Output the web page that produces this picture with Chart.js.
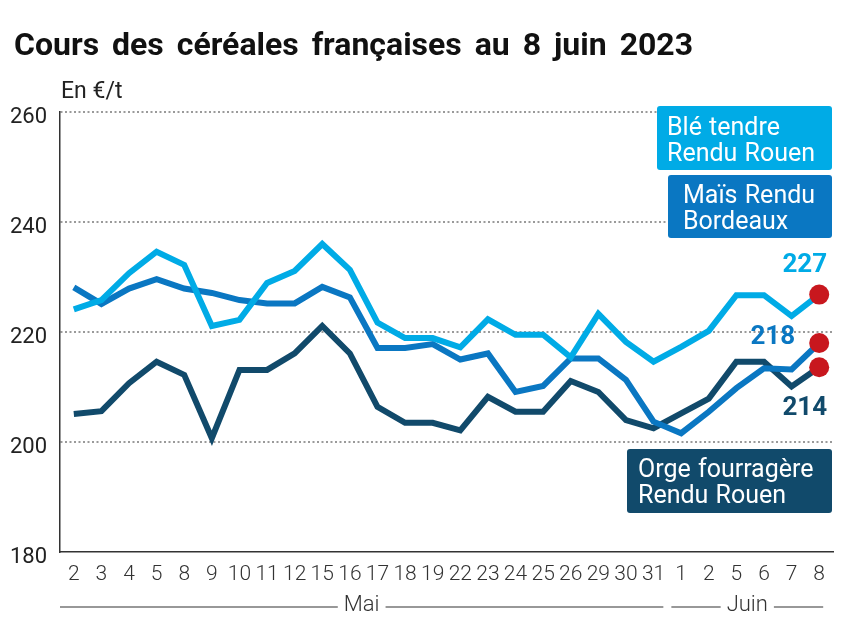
<!DOCTYPE html>
<html><head><meta charset="utf-8">
<script src="https://cdn.jsdelivr.net/npm/chart.js@4"></script>
<style>html,body{margin:0;padding:0;background:#fff;overflow:hidden}</style>
</head><body>
<canvas id="c" width="844" height="630"></canvas>
<script>
// ---- data ----
const categories = ['2','3','4','5','8','9','10','11','12','15','16','17','18','19','22','23','24','25','26','29','30','31','1','2','5','6','7','8'];
const bleTendre = [224.1,225.8,230.7,234.6,232.2,221.1,222.2,228.9,231.1,236.0,231.3,221.7,218.9,218.9,217.2,222.3,219.5,219.5,215.4,223.3,218.2,214.6,217.3,220.2,226.7,226.7,222.9,226.8];
const mais      = [228.1,225.1,227.9,229.6,227.9,227.1,225.8,225.2,225.2,228.2,226.3,217.1,217.1,217.8,215.0,216.1,209.1,210.2,215.2,215.2,211.3,203.7,201.6,205.5,209.8,213.4,213.2,218.0];
const orge      = [205.1,205.6,210.7,214.6,212.2,200.7,213.1,213.1,216.1,221.1,216.1,206.4,203.5,203.5,202.1,208.2,205.5,205.5,211.1,209.1,204.0,202.5,205.2,207.9,214.6,214.6,210.1,213.6];
const seriesNames = [['Blé tendre','Rendu Rouen'],['Maïs Rendu','Bordeaux'],['Orge fourragère','Rendu Rouen']];
const yTicks = [180,200,220,240,260];
const monthNames = ['Mai','Juin'];
const monthStart = [0,22];
const monthEnd = [21,27];
const titleText = 'Cours des céréales françaises au 8 juin 2023';
const unitText = 'En €/t';

// ---- style ----
const colors = ['#00abe6','#0a77c2','#114a6b'];
const dotColor = '#c8171e';
const FONT = 'Roboto';
const last = categories.length - 1;

function spacedText(ctx, text, x, y, extra) {
  const sp = ctx.measureText(' ').width + extra;
  text.split(' ').forEach(w => { ctx.fillText(w, x, y); x += ctx.measureText(w).width + sp; });
}

const overlay = {
  id: 'overlay',
  afterDraw(chart) {
    const ctx = chart.ctx;
    const x = chart.scales.x, y = chart.scales.y;
    const area = chart.chartArea;
    ctx.save();
    // title
    ctx.fillStyle = '#111';
    ctx.textBaseline = 'alphabetic';
    ctx.textAlign = 'left';
    ctx.font = `bold 32px ${FONT}`;
    spacedText(ctx, titleText, 14, 55, 5);
    ctx.font = `23px ${FONT}`;
    ctx.fillStyle = '#222';
    ctx.fillText(unitText, 61, 98);

    // legend boxes
    const boxes = [
      {x:657, y:106, w:175, h:64, tx:667, b:[135,161]},
      {x:668, y:175, w:164, h:63, tx:683, b:[203,229]},
      {x:627, y:449, w:205, h:64, tx:638, b:[477,503]}
    ];
    boxes.forEach((bx, i) => {
      ctx.fillStyle = colors[i];
      ctx.beginPath();
      if (ctx.roundRect) ctx.roundRect(bx.x, bx.y, bx.w, bx.h, 3); else ctx.rect(bx.x, bx.y, bx.w, bx.h);
      ctx.fill();
      ctx.fillStyle = '#fff';
      ctx.font = `25px ${FONT}`;
      ctx.textAlign = 'left';
      ctx.textBaseline = 'alphabetic';
      seriesNames[i].forEach((t, j) => spacedText(ctx, t, bx.tx, bx.b[j], 1));
    });

    // end value labels
    const offs = [{dx:8, dy:-29},{dx:-24, dy:-5.5},{dx:8, dy:41}];
    chart.data.datasets.forEach((ds, i) => {
      const px = x.getPixelForValue(last);
      const py = y.getPixelForValue(ds.data[last]);
      ctx.fillStyle = colors[i];
      ctx.font = `bold 26px ${FONT}`;
      ctx.textAlign = 'right';
      ctx.textBaseline = 'middle';
      ctx.fillText(String(Math.round(ds.data[last])), px + offs[i].dx, py + offs[i].dy);
    });

    // month brackets
    const ly = 607;
    ctx.strokeStyle = '#333';
    ctx.lineWidth = 1.2;
    ctx.font = `300 22px ${FONT}`;
    ctx.fillStyle = '#333';
    ctx.textAlign = 'center';
    ctx.textBaseline = 'middle';
    monthNames.forEach((m, i) => {
      const s = monthStart[i], e = monthEnd[i];
      const x0 = s === 0 ? area.left : (x.getPixelForValue(s - 1) + x.getPixelForValue(s)) / 2 + 4;
      const x1 = e === last ? x.getPixelForValue(e) + 4 : (x.getPixelForValue(e) + x.getPixelForValue(e + 1)) / 2 - 4;
      const cx = (x0 + x1) / 2;
      const tw = ctx.measureText(m).width;
      ctx.beginPath();
      ctx.moveTo(x0, ly); ctx.lineTo(cx - tw / 2 - 6, ly);
      ctx.moveTo(cx + tw / 2 + 6, ly); ctx.lineTo(x1, ly);
      ctx.stroke();
      ctx.fillText(m, cx, ly - 2);
    });
    ctx.restore();
  }
};

const mk = (label, data, color) => ({
  label, data,
  borderColor: color,
  backgroundColor: color,
  borderWidth: 6,
  borderJoinStyle: 'miter',
  tension: 0,
  pointRadius: c => c.dataIndex === last ? 10 : 0,
  pointBackgroundColor: dotColor,
  pointBorderWidth: 0,
  clip: false
});

new Chart(document.getElementById('c'), {
  type: 'line',
  data: {
    labels: categories,
    datasets: [
      mk(seriesNames[0].join(' '), bleTendre, colors[0]),
      mk(seriesNames[1].join(' '), mais, colors[1]),
      mk(seriesNames[2].join(' '), orge, colors[2])
    ]
  },
  options: {
    responsive: false,
    animation: false,
    events: [],
    layout: { padding: { top: 112, left: 0, right: 11, bottom: 0 } },
    plugins: { legend: { display: false }, tooltip: { enabled: false }, title: { display: false } },
    scales: {
      x: {
        type: 'category',
        offset: true,
        grid: { display: false, drawTicks: false },
        border: { display: true, color: '#333', width: 1.5 },
        ticks: { font: { family: FONT, size: 21, weight: '300' }, color: '#333', maxRotation: 0, autoSkip: false, padding: 10 },
        afterFit(s) { s.height = 78; }
      },
      y: {
        min: 180, max: 260,
        afterBuildTicks(s) { s.ticks = yTicks.map(v => ({ value: v })); },
        ticks: {
          font: { family: FONT, size: 22, lineHeight: '11px' },
          color: '#222', padding: 13,
          callback: v => ['', String(v)]
        },
        grid: { color: c => (c.tick && c.tick.value === 180) ? 'rgba(0,0,0,0)' : '#9a9a9a', lineWidth: 2, drawTicks: false },
        border: { display: true, color: '#333', width: 1.5, dash: [2, 2.5] },
        afterFit(s) { s.width = 60; }
      }
    }
  },
  plugins: [overlay]
});
</script>
</body></html>
